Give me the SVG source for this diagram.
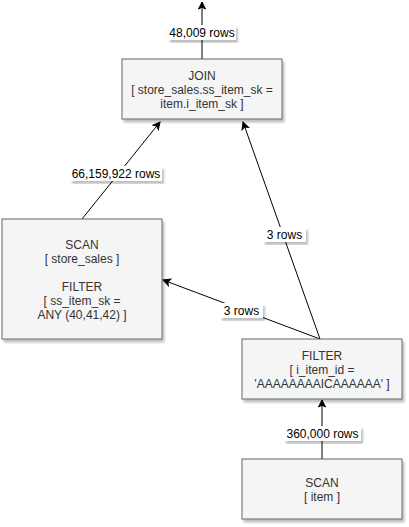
<svg xmlns="http://www.w3.org/2000/svg" width="409" height="527" viewBox="0 0 409 527">
<style>
.box{fill:#f5f5f5;stroke:#666666;stroke-width:1;filter:url(#sh)}
.t{font-family:"Liberation Sans",Arial,sans-serif;font-size:12px;fill:#333333;text-anchor:middle}
.lt{font-family:"Liberation Sans",Arial,sans-serif;font-size:12px;fill:#000000;text-anchor:middle}
.lbg{fill:#ffffff;filter:url(#sh)}
.e{stroke:#000000;stroke-width:1;fill:none;marker-end:url(#ah)}
</style>
<defs>
<filter id="sh" x="-20%" y="-20%" width="140%" height="140%">
<feOffset in="SourceAlpha" dx="2" dy="3" result="o"/>
<feGaussianBlur in="o" stdDeviation="1.2" result="b"/>
<feComponentTransfer in="b" result="c"><feFuncA type="linear" slope="0.25"/></feComponentTransfer>
<feMerge><feMergeNode in="c"/><feMergeNode in="SourceGraphic"/></feMerge>
</filter>
<marker id="ah" markerWidth="10" markerHeight="10" refX="8" refY="5" orient="auto" markerUnits="userSpaceOnUse">
<path d="M1,1.5 L8,5 L1,8.5 L2.8,5 Z" fill="#000000" stroke="#000000" stroke-width="1"/>
</marker>
</defs>
<rect width="409" height="527" fill="#ffffff"/>
<g id="connectors">
<line class="e" x1="202" y1="59" x2="202" y2="2"/>
<line class="e" x1="82" y1="219" x2="160" y2="122"/>
<line class="e" x1="320" y1="339" x2="243" y2="122"/>
<line class="e" x1="320" y1="339" x2="163" y2="280"/>
<line class="e" x1="322" y1="459" x2="322" y2="400"/>
<g id="labels">
<rect class="lbg" x="168" y="25" width="68" height="15"/>
<text class="lt" x="202" y="37">48,009 rows</text>
<rect class="lbg" x="70" y="166" width="92" height="15"/>
<text class="lt" x="116" y="178">66,159,922 rows</text>
<rect class="lbg" x="263" y="227" width="43" height="15"/>
<text class="lt" x="284.5" y="239">3 rows</text>
<rect class="lbg" x="220" y="303" width="43" height="15"/>
<text class="lt" x="241.5" y="315">3 rows</text>
<rect class="lbg" x="284" y="426" width="77" height="15"/>
<text class="lt" x="322.5" y="438">360,000 rows</text>
</g>
</g>
<g id="join">
<rect class="box" x="122" y="59" width="160" height="60"/>
<text class="t" x="202" y="80">JOIN</text>
<text class="t" x="202" y="94">[ store_sales.ss_item_sk =</text>
<text class="t" x="202" y="108">item.i_item_sk ]</text>
</g>
<g id="scan_store_sales">
<rect class="box" x="2" y="219" width="160" height="120"/>
<text class="t" x="82" y="249">SCAN</text>
<text class="t" x="82" y="263">[ store_sales ]</text>
<text class="t" x="82" y="291">FILTER</text>
<text class="t" x="82" y="305">[ ss_item_sk =</text>
<text class="t" x="82" y="319">ANY (40,41,42) ]</text>
</g>
<g id="filter_item">
<rect class="box" x="242" y="339" width="160" height="60"/>
<text class="t" x="322" y="360">FILTER</text>
<text class="t" x="322" y="374">[ i_item_id =</text>
<text class="t" x="322" y="388">'AAAAAAAAICAAAAAA' ]</text>
</g>
<g id="scan_item">
<rect class="box" x="242" y="459" width="160" height="60"/>
<text class="t" x="322" y="487">SCAN</text>
<text class="t" x="322" y="501">[ item ]</text>
</g>
</svg>
